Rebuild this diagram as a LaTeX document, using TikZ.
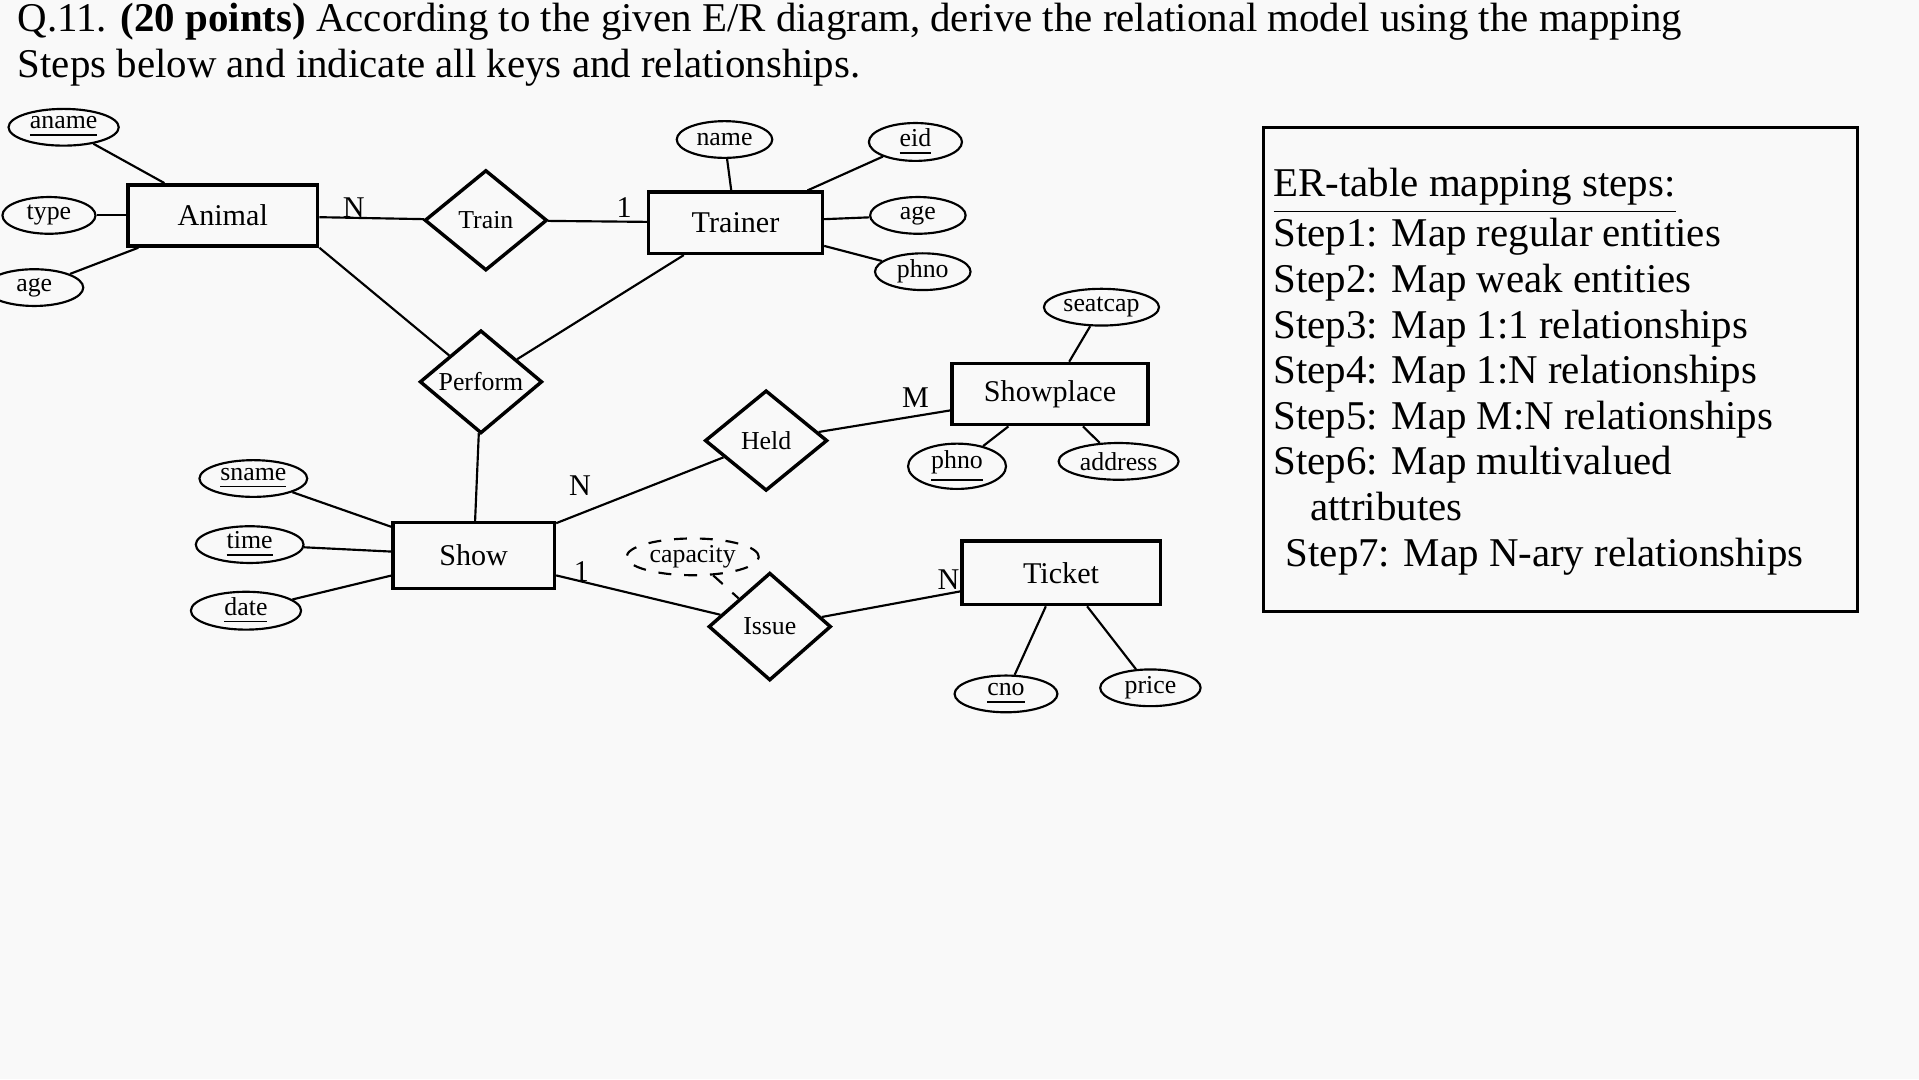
\documentclass[tikz,border=0pt]{standalone}
\usepackage{fontspec}
\setmainfont{Liberation Serif}
\usetikzlibrary{shapes.geometric}
\begin{document}
\begin{tikzpicture}[x=0.01cm,y=-0.01cm,
  ent/.style={draw,thick,minimum width=#1,minimum height=0.5cm,font=\fontsize{7}{8}\selectfont},
  rel/.style={draw,diamond,thick,minimum width=1.0cm,minimum height=0.82cm,inner sep=0pt,font=\fontsize{6}{7}\selectfont},
  att/.style={draw,ellipse,minimum width=#1,minimum height=0.3cm,inner sep=0pt,font=\fontsize{6}{7}\selectfont},
  lbl/.style={font=\fontsize{7}{8}\selectfont},
  every path/.style={line width=0.5pt}]
\fill[white!95!gray] (0,0) rectangle (1568,882);
\useasboundingbox (0,0) rectangle (1568,882);
\node[anchor=west,font=\fontsize{9.5}{11}\selectfont] (h1) at (2,18) {Q.11. \textbf{(20 points)} According to the given E/R diagram, derive the relational model using the mapping};
\node[anchor=west,font=\fontsize{9.5}{11}\selectfont] (h2) at (2,55) {Steps below and indicate all keys and relationships.};
% entities
\node[ent=1.55cm] (animal) at (182,176) {Animal};
\node[ent=1.42cm] (trainer) at (601,182) {Trainer};
\node[ent=1.6cm] (showplace) at (858,322) {Showplace};
\node[ent=1.32cm,minimum height=0.54cm] (show) at (387,454) {Show};
\node[ent=1.62cm,minimum height=0.52cm] (ticket) at (867,468) {Ticket};
% relationships
\node[rel] (train) at (397,180) {Train};
\node[rel,minimum height=0.84cm] (perform) at (393,312) {Perform};
\node[rel] (held) at (626,360) {Held};
\node[rel,minimum height=0.88cm] (issue) at (629,512) {Issue};
% attributes
\node[att=0.9cm] (aname) at (52,104) {\underline{aname}};
\node[att=0.76cm] (type) at (40,176) {type};
\node[att=0.8cm] (age1) at (28,235) {age};
\node[att=0.78cm] (name) at (592,114) {name};
\node[att=0.76cm] (eid) at (748,116) {\underline{eid}};
\node[att=0.78cm] (age2) at (750,176) {age};
\node[att=0.78cm] (phno1) at (754,222) {phno};
\node[att=0.94cm] (seatcap) at (900,251) {seatcap};
\node[att=0.8cm] (phno2) at (782,381) {\underline{phno}};
\node[att=0.98cm] (address) at (914,377) {address};
\node[att=0.88cm] (sname) at (207,391) {\underline{sname}};
\node[att=0.88cm] (time) at (204,445) {\underline{time}};
\node[att=0.9cm] (date) at (201,499) {\underline{date}};
\node[att=1.08cm,dashed] (capacity) at (566,455) {capacity};
\node[att=0.84cm] (cno) at (822,567) {\underline{cno}};
\node[att=0.82cm] (price) at (940,562) {price};
% connectors
\draw (aname) -- (animal);
\draw (type) -- (animal);
\draw (age1) -- (animal);
\draw (animal) -- (train);
\draw (train) -- (trainer);
\draw (animal.south east) -- (perform);
\draw (trainer) -- (perform);
\draw (perform) -- (show);
\draw (name) -- (trainer);
\draw (eid) -- (trainer);
\draw (age2) -- (trainer);
\draw (phno1) -- (trainer);
\draw (show) -- (held);
\draw (held) -- (showplace);
\draw (seatcap) -- (showplace);
\draw (phno2) -- (showplace);
\draw (address) -- (showplace);
\draw (sname) -- (show);
\draw (time) -- (show);
\draw (date) -- (show);
\draw (show) -- (issue);
\draw (issue) -- (ticket);
\draw[dashed] (capacity) -- (issue);
\draw (cno) -- (ticket);
\draw (price) -- (ticket);
% cardinalities
\node[lbl] (c1) at (289,170) {N};
\node[lbl] (c2) at (510,170) {1};
\node[lbl] (c3) at (474,397) {N};
\node[lbl] (c4) at (748,325) {M};
\node[lbl] (c5) at (475,467) {1};
\node[lbl] (c6) at (775,474) {N};
% steps box
\node[draw,thick,minimum width=4.85cm,minimum height=3.95cm] (box) at (1275,302) {};
\node[anchor=north west,align=left,font=\fontsize{9.5}{10.6}\selectfont] (steps) at (1028,125)
{\underline{ER-table mapping steps:}\\
Step1: Map regular entities\\
Step2: Map weak entities\\
Step3: Map 1:1 relationships\\
Step4: Map 1:N relationships\\
Step5: Map M:N relationships\\
Step6: Map multivalued\\
\hspace{0.3cm}attributes\\
\hspace{0.1cm}Step7: Map N-ary relationships};
\end{tikzpicture}
\end{document}
